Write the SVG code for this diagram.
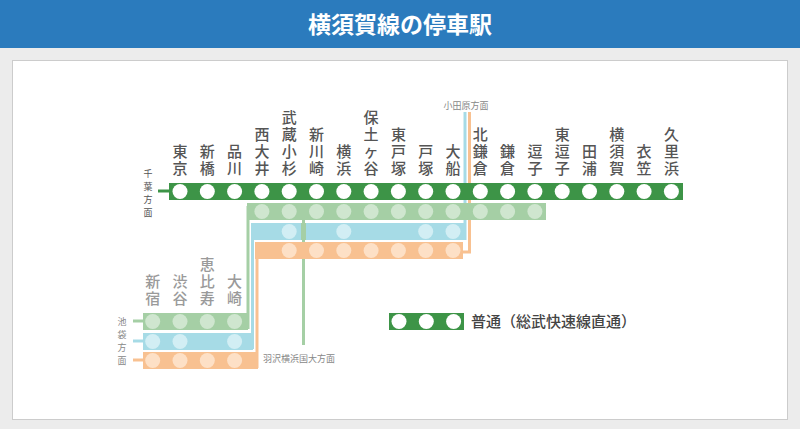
<svg xmlns="http://www.w3.org/2000/svg" width="800" height="429" viewBox="0 0 800 429">
<style>
.st{font-family:"Noto Sans CJK JP","Noto Sans CJK SC",sans-serif;font-size:15px;font-weight:500;fill:#555;text-anchor:middle}
.sg{font-family:"Noto Sans CJK JP","Noto Sans CJK SC",sans-serif;font-size:15px;font-weight:500;fill:#9a9a9a;text-anchor:middle}
.sm{font-family:"Noto Sans CJK JP","Noto Sans CJK SC",sans-serif;font-size:9px;fill:#888;text-anchor:middle}
.cw{fill:#fff}.cg{fill:#cfe6cf}.cb{fill:#d2eef4}.co{fill:#fde0c6}
</style>
<rect width="800" height="429" fill="#ececec"/>
<rect x="0" y="0" width="800" height="48" fill="#2b7bbd"/>
<text x="400" y="33" font-family="Noto Sans CJK JP,sans-serif" font-size="23" font-weight="bold" fill="#fff" text-anchor="middle">横須賀線の停車駅</text>
<rect x="12.5" y="60.5" width="775" height="359" fill="#fff" stroke="#ccc"/>
<g id="connectors" fill="none">
<line x1="158" y1="191" x2="170" y2="191" stroke="#3d9447" stroke-width="3"/>
<line x1="133" y1="321" x2="145" y2="321" stroke="#a5cfa5" stroke-width="3"/>
<line x1="133" y1="341" x2="145" y2="341" stroke="#a6dbe6" stroke-width="3"/>
<line x1="133" y1="360" x2="145" y2="360" stroke="#f8c191" stroke-width="3"/>
<path d="M465 112 V240" stroke="#a6dbe6" stroke-width="3"/>
<path d="M469.5 112 V252 H462" stroke="#f8c191" stroke-width="3"/>
<path d="M248 206 V329" stroke="#a5cfa5" stroke-width="3"/>
<path d="M252.5 226 V349" stroke="#a6dbe6" stroke-width="3"/>
<path d="M257 245 V368" stroke="#f8c191" stroke-width="3"/>
<path d="M303.5 220 V345" stroke="#a5cfa5" stroke-width="3"/>
</g>
<g id="main-line">
<rect x="169" y="183" width="514" height="17" fill="#3d9447"/>
<g class="cw"><circle cx="180" cy="191.5" r="7.5"/><circle cx="207.3" cy="191.5" r="7.5"/><circle cx="234.6" cy="191.5" r="7.5"/><circle cx="261.9" cy="191.5" r="7.5"/><circle cx="289.2" cy="191.5" r="7.5"/><circle cx="316.5" cy="191.5" r="7.5"/><circle cx="343.8" cy="191.5" r="7.5"/><circle cx="371.1" cy="191.5" r="7.5"/><circle cx="398.4" cy="191.5" r="7.5"/><circle cx="425.7" cy="191.5" r="7.5"/><circle cx="453" cy="191.5" r="7.5"/><circle cx="480.3" cy="191.5" r="7.5"/><circle cx="507.6" cy="191.5" r="7.5"/><circle cx="534.9" cy="191.5" r="7.5"/><circle cx="562.2" cy="191.5" r="7.5"/><circle cx="589.5" cy="191.5" r="7.5"/><circle cx="616.8" cy="191.5" r="7.5"/><circle cx="644.1" cy="191.5" r="7.5"/><circle cx="671.4" cy="191.5" r="7.5"/></g>
</g>
<g id="shonan-green">
<rect x="247" y="203" width="299" height="17" fill="#a5cfa5"/>
<g class="cg"><circle cx="261.9" cy="211.5" r="7.5"/><circle cx="289.2" cy="211.5" r="7.5"/><circle cx="316.5" cy="211.5" r="7.5"/><circle cx="343.8" cy="211.5" r="7.5"/><circle cx="371.1" cy="211.5" r="7.5"/><circle cx="398.4" cy="211.5" r="7.5"/><circle cx="425.7" cy="211.5" r="7.5"/><circle cx="453" cy="211.5" r="7.5"/><circle cx="480.3" cy="211.5" r="7.5"/><circle cx="507.6" cy="211.5" r="7.5"/><circle cx="534.9" cy="211.5" r="7.5"/></g>
</g>
<g id="shonan-blue">
<rect x="251" y="223" width="215" height="17" fill="#a6dbe6"/>
<rect x="301" y="223" width="5" height="17" fill="#a5cfa5"/>
<g class="cb"><circle cx="289.2" cy="231.5" r="7.5"/><circle cx="343.8" cy="231.5" r="7.5"/><circle cx="425.7" cy="231.5" r="7.5"/><circle cx="453" cy="231.5" r="7.5"/></g>
</g>
<g id="shonan-orange">
<rect x="255" y="242" width="208" height="17" fill="#f8c191"/>
<g class="co"><circle cx="289.2" cy="250.5" r="7.5"/><circle cx="316.5" cy="250.5" r="7.5"/><circle cx="343.8" cy="250.5" r="7.5"/><circle cx="371.1" cy="250.5" r="7.5"/><circle cx="398.4" cy="250.5" r="7.5"/><circle cx="425.7" cy="250.5" r="7.5"/><circle cx="453" cy="250.5" r="7.5"/></g>
</g>
<g id="west-lines">
<rect x="143" y="313" width="105" height="17" fill="#a5cfa5"/>
<rect x="143" y="333" width="110" height="17" fill="#a6dbe6"/>
<rect x="143" y="352" width="115" height="17" fill="#f8c191"/>
<g class="cg"><circle cx="152.7" cy="321.5" r="7.5"/><circle cx="180" cy="321.5" r="7.5"/><circle cx="207.3" cy="321.5" r="7.5"/><circle cx="234.6" cy="321.5" r="7.5"/></g>
<g class="cb"><circle cx="152.7" cy="341.5" r="7.5"/><circle cx="180" cy="341.5" r="7.5"/><circle cx="234.6" cy="341.5" r="7.5"/></g>
<g class="co"><circle cx="152.7" cy="360.5" r="7.5"/><circle cx="180" cy="360.5" r="7.5"/><circle cx="207.3" cy="360.5" r="7.5"/><circle cx="234.6" cy="360.5" r="7.5"/></g>
</g>
<g id="labels">
<text class="st" x="180" y="157">東<tspan x="180" dy="17">京</tspan></text>
<text class="st" x="207.3" y="157">新<tspan x="207.3" dy="17">橋</tspan></text>
<text class="st" x="234.6" y="157">品<tspan x="234.6" dy="17">川</tspan></text>
<text class="st" x="261.9" y="140">西<tspan x="261.9" dy="17">大</tspan><tspan x="261.9" dy="17">井</tspan></text>
<text class="st" x="289.2" y="123">武<tspan x="289.2" dy="17">蔵</tspan><tspan x="289.2" dy="17">小</tspan><tspan x="289.2" dy="17">杉</tspan></text>
<text class="st" x="316.5" y="140">新<tspan x="316.5" dy="17">川</tspan><tspan x="316.5" dy="17">崎</tspan></text>
<text class="st" x="343.8" y="157">横<tspan x="343.8" dy="17">浜</tspan></text>
<text class="st" x="371.1" y="123">保<tspan x="371.1" dy="17">土</tspan><tspan x="371.1" dy="17">ヶ</tspan><tspan x="371.1" dy="17">谷</tspan></text>
<text class="st" x="398.4" y="140">東<tspan x="398.4" dy="17">戸</tspan><tspan x="398.4" dy="17">塚</tspan></text>
<text class="st" x="425.7" y="157">戸<tspan x="425.7" dy="17">塚</tspan></text>
<text class="st" x="453" y="157">大<tspan x="453" dy="17">船</tspan></text>
<text class="st" x="480.3" y="140">北<tspan x="480.3" dy="17">鎌</tspan><tspan x="480.3" dy="17">倉</tspan></text>
<text class="st" x="507.6" y="157">鎌<tspan x="507.6" dy="17">倉</tspan></text>
<text class="st" x="534.9" y="157">逗<tspan x="534.9" dy="17">子</tspan></text>
<text class="st" x="562.2" y="140">東<tspan x="562.2" dy="17">逗</tspan><tspan x="562.2" dy="17">子</tspan></text>
<text class="st" x="589.5" y="157">田<tspan x="589.5" dy="17">浦</tspan></text>
<text class="st" x="616.8" y="140">横<tspan x="616.8" dy="17">須</tspan><tspan x="616.8" dy="17">賀</tspan></text>
<text class="st" x="644.1" y="157">衣<tspan x="644.1" dy="17">笠</tspan></text>
<text class="st" x="671.4" y="140">久<tspan x="671.4" dy="17">里</tspan><tspan x="671.4" dy="17">浜</tspan></text>
<text class="sg" x="152.7" y="287">新<tspan x="152.7" dy="17">宿</tspan></text>
<text class="sg" x="180" y="287">渋<tspan x="180" dy="17">谷</tspan></text>
<text class="sg" x="207.3" y="270">恵<tspan x="207.3" dy="17">比</tspan><tspan x="207.3" dy="17">寿</tspan></text>
<text class="sg" x="234.6" y="287">大<tspan x="234.6" dy="17">崎</tspan></text>
<text class="sm" x="148" y="177" style="fill:#555">千<tspan x="148" dy="13">葉</tspan><tspan x="148" dy="13">方</tspan><tspan x="148" dy="13">面</tspan></text>
<text class="sm" x="122" y="325">池<tspan x="122" dy="13">袋</tspan><tspan x="122" dy="13">方</tspan><tspan x="122" dy="13">面</tspan></text>
<text class="sm" x="466" y="109">小田原方面</text>
<text class="sm" x="263" y="362" style="text-anchor:start">羽沢横浜国大方面</text>
</g>
<g id="legend">
<rect x="389" y="313" width="75" height="17" fill="#3d9447"/>
<circle cx="399" cy="321.5" r="7.5" fill="#fff"/><circle cx="426.3" cy="321.5" r="7.5" fill="#fff"/><circle cx="453.6" cy="321.5" r="7.5" fill="#fff"/>
<text x="471" y="327" font-family="Noto Sans CJK JP,sans-serif" font-size="15" font-weight="500" fill="#444">普通（総武快速線直通）</text>
</g>
</svg>
